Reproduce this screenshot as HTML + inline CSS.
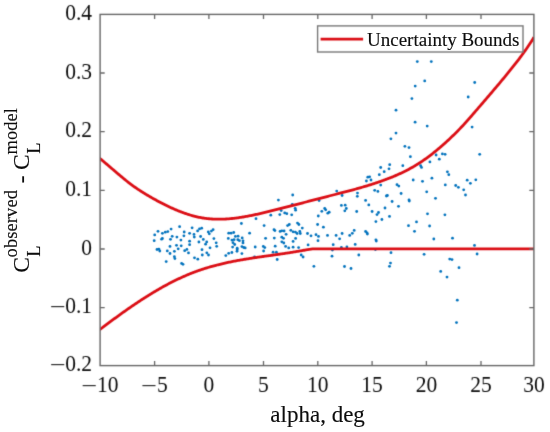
<!DOCTYPE html>
<html><head><meta charset="utf-8"><title>Uncertainty Bounds</title>
<style>html,body{margin:0;padding:0;background:#fff;width:550px;height:432px;overflow:hidden}svg{display:block}</style>
</head><body>
<svg width="550" height="432" viewBox="0 0 550 432"><defs><filter id="soft" color-interpolation-filters="sRGB" x="0" y="0" width="550" height="432" filterUnits="userSpaceOnUse"><feConvolveMatrix order="3" kernelMatrix="1 6 1 6 36 6 1 6 1" divisor="64" edgeMode="duplicate"/></filter></defs><g filter="url(#soft)"><rect width="550" height="432" fill="#fff"/><defs><clipPath id="c"><rect x="100.1" y="14.4" width="433.9" height="351.1"/></clipPath></defs><g fill="#0072bd" clip-path="url(#c)"><circle cx="179.6" cy="226.7" r="1.4"/><circle cx="171.1" cy="229.1" r="1.4"/><circle cx="158.0" cy="231.3" r="1.4"/><circle cx="162.4" cy="233.3" r="1.4"/><circle cx="165.3" cy="232.2" r="1.4"/><circle cx="167.8" cy="231.6" r="1.4"/><circle cx="154.7" cy="234.9" r="1.4"/><circle cx="192.1" cy="227.8" r="1.4"/><circle cx="184.2" cy="232.0" r="1.4"/><circle cx="183.9" cy="235.8" r="1.4"/><circle cx="172.2" cy="236.3" r="1.4"/><circle cx="176.9" cy="237.1" r="1.4"/><circle cx="189.6" cy="233.3" r="1.4"/><circle cx="194.0" cy="234.4" r="1.4"/><circle cx="194.3" cy="237.1" r="1.4"/><circle cx="197.6" cy="230.9" r="1.4"/><circle cx="199.5" cy="228.9" r="1.4"/><circle cx="162.4" cy="238.5" r="1.4"/><circle cx="161.6" cy="239.2" r="1.4"/><circle cx="154.2" cy="240.7" r="1.4"/><circle cx="170.5" cy="239.3" r="1.4"/><circle cx="180.9" cy="240.1" r="1.4"/><circle cx="189.6" cy="241.2" r="1.4"/><circle cx="189.6" cy="244.7" r="1.4"/><circle cx="198.9" cy="242.0" r="1.4"/><circle cx="170.0" cy="246.4" r="1.4"/><circle cx="176.5" cy="245.3" r="1.4"/><circle cx="181.2" cy="245.8" r="1.4"/><circle cx="178.2" cy="248.8" r="1.4"/><circle cx="157.0" cy="249.5" r="1.4"/><circle cx="158.9" cy="249.1" r="1.4"/><circle cx="159.8" cy="251.0" r="1.4"/><circle cx="167.3" cy="250.9" r="1.4"/><circle cx="170.0" cy="253.5" r="1.4"/><circle cx="174.4" cy="251.3" r="1.4"/><circle cx="184.7" cy="250.7" r="1.4"/><circle cx="186.9" cy="249.4" r="1.4"/><circle cx="188.5" cy="252.9" r="1.4"/><circle cx="174.4" cy="256.7" r="1.4"/><circle cx="174.9" cy="258.6" r="1.4"/><circle cx="194.5" cy="257.8" r="1.4"/><circle cx="197.8" cy="259.2" r="1.4"/><circle cx="166.2" cy="261.6" r="1.4"/><circle cx="181.6" cy="263.4" r="1.4"/><circle cx="183.0" cy="264.3" r="1.4"/><circle cx="201.7" cy="228.2" r="1.4"/><circle cx="208.3" cy="231.9" r="1.4"/><circle cx="209.3" cy="233.8" r="1.4"/><circle cx="211.4" cy="231.1" r="1.4"/><circle cx="213.1" cy="229.7" r="1.4"/><circle cx="200.6" cy="236.5" r="1.4"/><circle cx="203.3" cy="239.4" r="1.4"/><circle cx="206.7" cy="241.9" r="1.4"/><circle cx="205.6" cy="244.2" r="1.4"/><circle cx="213.9" cy="238.6" r="1.4"/><circle cx="216.2" cy="242.8" r="1.4"/><circle cx="216.7" cy="246.3" r="1.4"/><circle cx="210.0" cy="247.8" r="1.4"/><circle cx="202.0" cy="249.7" r="1.4"/><circle cx="202.3" cy="255.0" r="1.4"/><circle cx="206.8" cy="252.8" r="1.4"/><circle cx="208.5" cy="255.0" r="1.4"/><circle cx="228.7" cy="233.2" r="1.4"/><circle cx="231.1" cy="233.2" r="1.4"/><circle cx="233.7" cy="232.5" r="1.4"/><circle cx="249.6" cy="233.2" r="1.4"/><circle cx="235.4" cy="236.4" r="1.4"/><circle cx="238.1" cy="236.2" r="1.4"/><circle cx="242.2" cy="237.9" r="1.4"/><circle cx="228.3" cy="238.4" r="1.4"/><circle cx="231.9" cy="240.1" r="1.4"/><circle cx="234.1" cy="239.7" r="1.4"/><circle cx="237.8" cy="239.7" r="1.4"/><circle cx="239.4" cy="240.7" r="1.4"/><circle cx="243.0" cy="240.8" r="1.4"/><circle cx="243.0" cy="242.9" r="1.4"/><circle cx="233.0" cy="242.7" r="1.4"/><circle cx="234.7" cy="244.5" r="1.4"/><circle cx="232.6" cy="247.1" r="1.4"/><circle cx="237.2" cy="248.2" r="1.4"/><circle cx="237.2" cy="249.7" r="1.4"/><circle cx="237.0" cy="251.3" r="1.4"/><circle cx="241.9" cy="246.6" r="1.4"/><circle cx="243.7" cy="247.5" r="1.4"/><circle cx="245.2" cy="247.9" r="1.4"/><circle cx="231.9" cy="252.5" r="1.4"/><circle cx="228.7" cy="253.3" r="1.4"/><circle cx="225.8" cy="255.6" r="1.4"/><circle cx="241.9" cy="253.6" r="1.4"/><circle cx="241.4" cy="223.5" r="1.4"/><circle cx="256.0" cy="218.7" r="1.4"/><circle cx="270.8" cy="215.2" r="1.4"/><circle cx="279.8" cy="214.6" r="1.4"/><circle cx="281.2" cy="210.6" r="1.4"/><circle cx="284.7" cy="212.9" r="1.4"/><circle cx="286.8" cy="213.7" r="1.4"/><circle cx="264.1" cy="225.6" r="1.4"/><circle cx="287.6" cy="225.6" r="1.4"/><circle cx="289.3" cy="224.5" r="1.4"/><circle cx="274.0" cy="229.7" r="1.4"/><circle cx="274.9" cy="230.6" r="1.4"/><circle cx="280.1" cy="231.4" r="1.4"/><circle cx="281.8" cy="230.8" r="1.4"/><circle cx="284.1" cy="231.0" r="1.4"/><circle cx="286.1" cy="234.3" r="1.4"/><circle cx="265.6" cy="238.3" r="1.4"/><circle cx="274.3" cy="238.1" r="1.4"/><circle cx="281.8" cy="237.2" r="1.4"/><circle cx="283.5" cy="238.3" r="1.4"/><circle cx="281.8" cy="241.8" r="1.4"/><circle cx="283.8" cy="243.0" r="1.4"/><circle cx="255.2" cy="247.0" r="1.4"/><circle cx="263.3" cy="246.4" r="1.4"/><circle cx="264.8" cy="247.6" r="1.4"/><circle cx="275.2" cy="246.2" r="1.4"/><circle cx="285.6" cy="246.4" r="1.4"/><circle cx="288.7" cy="247.9" r="1.4"/><circle cx="263.6" cy="251.0" r="1.4"/><circle cx="273.1" cy="252.2" r="1.4"/><circle cx="276.4" cy="252.2" r="1.4"/><circle cx="254.6" cy="256.8" r="1.4"/><circle cx="277.2" cy="259.5" r="1.4"/><circle cx="292.7" cy="195.0" r="1.4"/><circle cx="278.4" cy="200.1" r="1.4"/><circle cx="319.1" cy="200.6" r="1.4"/><circle cx="295.2" cy="208.3" r="1.4"/><circle cx="295.6" cy="210.2" r="1.4"/><circle cx="291.7" cy="214.8" r="1.4"/><circle cx="321.8" cy="211.3" r="1.4"/><circle cx="324.7" cy="208.5" r="1.4"/><circle cx="325.7" cy="209.8" r="1.4"/><circle cx="318.3" cy="216.0" r="1.4"/><circle cx="297.5" cy="223.1" r="1.4"/><circle cx="298.9" cy="224.5" r="1.4"/><circle cx="302.3" cy="228.1" r="1.4"/><circle cx="317.6" cy="224.5" r="1.4"/><circle cx="323.4" cy="227.2" r="1.4"/><circle cx="290.8" cy="230.3" r="1.4"/><circle cx="293.1" cy="231.8" r="1.4"/><circle cx="295.4" cy="232.1" r="1.4"/><circle cx="297.1" cy="233.5" r="1.4"/><circle cx="299.8" cy="231.4" r="1.4"/><circle cx="300.3" cy="233.5" r="1.4"/><circle cx="307.5" cy="233.5" r="1.4"/><circle cx="311.0" cy="235.8" r="1.4"/><circle cx="316.0" cy="234.7" r="1.4"/><circle cx="318.5" cy="236.4" r="1.4"/><circle cx="295.6" cy="238.4" r="1.4"/><circle cx="293.1" cy="241.4" r="1.4"/><circle cx="318.0" cy="240.7" r="1.4"/><circle cx="308.1" cy="244.9" r="1.4"/><circle cx="293.1" cy="247.2" r="1.4"/><circle cx="298.6" cy="247.6" r="1.4"/><circle cx="333.2" cy="244.7" r="1.4"/><circle cx="301.2" cy="255.0" r="1.4"/><circle cx="303.1" cy="257.0" r="1.4"/><circle cx="332.0" cy="256.2" r="1.4"/><circle cx="332.4" cy="250.0" r="1.4"/><circle cx="313.9" cy="266.3" r="1.4"/><circle cx="342.1" cy="195.5" r="1.4"/><circle cx="357.3" cy="196.3" r="1.4"/><circle cx="365.6" cy="200.4" r="1.4"/><circle cx="368.8" cy="204.9" r="1.4"/><circle cx="341.4" cy="205.4" r="1.4"/><circle cx="345.2" cy="205.2" r="1.4"/><circle cx="346.3" cy="208.5" r="1.4"/><circle cx="344.8" cy="210.8" r="1.4"/><circle cx="356.7" cy="211.5" r="1.4"/><circle cx="327.8" cy="213.2" r="1.4"/><circle cx="329.2" cy="212.2" r="1.4"/><circle cx="327.5" cy="235.4" r="1.4"/><circle cx="336.1" cy="235.4" r="1.4"/><circle cx="342.1" cy="233.5" r="1.4"/><circle cx="339.6" cy="238.8" r="1.4"/><circle cx="349.7" cy="235.4" r="1.4"/><circle cx="352.3" cy="233.3" r="1.4"/><circle cx="354.2" cy="230.4" r="1.4"/><circle cx="365.6" cy="231.5" r="1.4"/><circle cx="367.1" cy="233.0" r="1.4"/><circle cx="367.4" cy="234.1" r="1.4"/><circle cx="355.2" cy="244.4" r="1.4"/><circle cx="346.9" cy="247.0" r="1.4"/><circle cx="341.4" cy="247.5" r="1.4"/><circle cx="358.8" cy="255.0" r="1.4"/><circle cx="344.5" cy="266.5" r="1.4"/><circle cx="351.0" cy="268.5" r="1.4"/><circle cx="386.4" cy="196.0" r="1.4"/><circle cx="387.4" cy="195.5" r="1.4"/><circle cx="392.1" cy="201.5" r="1.4"/><circle cx="409.0" cy="200.0" r="1.4"/><circle cx="409.3" cy="201.0" r="1.4"/><circle cx="385.0" cy="208.0" r="1.4"/><circle cx="398.5" cy="206.3" r="1.4"/><circle cx="372.1" cy="211.5" r="1.4"/><circle cx="378.5" cy="212.5" r="1.4"/><circle cx="377.0" cy="214.6" r="1.4"/><circle cx="389.5" cy="216.4" r="1.4"/><circle cx="381.9" cy="219.5" r="1.4"/><circle cx="375.9" cy="221.6" r="1.4"/><circle cx="408.5" cy="225.7" r="1.4"/><circle cx="414.5" cy="231.3" r="1.4"/><circle cx="375.9" cy="239.8" r="1.4"/><circle cx="376.3" cy="241.0" r="1.4"/><circle cx="375.4" cy="249.6" r="1.4"/><circle cx="391.0" cy="252.7" r="1.4"/><circle cx="390.5" cy="263.1" r="1.4"/><circle cx="389.5" cy="266.3" r="1.4"/><circle cx="435.5" cy="198.3" r="1.4"/><circle cx="427.5" cy="213.8" r="1.4"/><circle cx="444.9" cy="214.8" r="1.4"/><circle cx="416.5" cy="221.9" r="1.4"/><circle cx="429.6" cy="226.0" r="1.4"/><circle cx="433.8" cy="239.0" r="1.4"/><circle cx="452.5" cy="238.2" r="1.4"/><circle cx="424.1" cy="254.3" r="1.4"/><circle cx="449.7" cy="259.1" r="1.4"/><circle cx="452.0" cy="259.6" r="1.4"/><circle cx="459.0" cy="267.7" r="1.4"/><circle cx="440.7" cy="271.4" r="1.4"/><circle cx="447.0" cy="277.1" r="1.4"/><circle cx="457.3" cy="300.2" r="1.4"/><circle cx="456.5" cy="322.6" r="1.4"/><circle cx="479.7" cy="154.3" r="1.4"/><circle cx="447.4" cy="171.8" r="1.4"/><circle cx="448.8" cy="174.7" r="1.4"/><circle cx="445.3" cy="184.9" r="1.4"/><circle cx="455.7" cy="185.5" r="1.4"/><circle cx="458.4" cy="187.3" r="1.4"/><circle cx="463.7" cy="189.8" r="1.4"/><circle cx="465.5" cy="195.0" r="1.4"/><circle cx="467.2" cy="180.2" r="1.4"/><circle cx="470.4" cy="183.3" r="1.4"/><circle cx="475.8" cy="179.8" r="1.4"/><circle cx="474.5" cy="245.4" r="1.4"/><circle cx="477.1" cy="254.0" r="1.4"/><circle cx="404.9" cy="146.3" r="1.4"/><circle cx="409.0" cy="147.6" r="1.4"/><circle cx="410.4" cy="156.7" r="1.4"/><circle cx="402.8" cy="165.7" r="1.4"/><circle cx="420.6" cy="165.7" r="1.4"/><circle cx="421.5" cy="167.4" r="1.4"/><circle cx="429.9" cy="161.9" r="1.4"/><circle cx="436.1" cy="155.0" r="1.4"/><circle cx="439.3" cy="159.2" r="1.4"/><circle cx="442.4" cy="153.9" r="1.4"/><circle cx="445.1" cy="154.3" r="1.4"/><circle cx="413.2" cy="180.0" r="1.4"/><circle cx="422.5" cy="181.3" r="1.4"/><circle cx="431.9" cy="178.2" r="1.4"/><circle cx="401.1" cy="193.5" r="1.4"/><circle cx="426.7" cy="191.8" r="1.4"/><circle cx="389.7" cy="164.7" r="1.4"/><circle cx="380.7" cy="167.5" r="1.4"/><circle cx="389.0" cy="168.8" r="1.4"/><circle cx="384.2" cy="171.7" r="1.4"/><circle cx="379.3" cy="174.7" r="1.4"/><circle cx="367.8" cy="177.2" r="1.4"/><circle cx="369.6" cy="176.8" r="1.4"/><circle cx="366.4" cy="181.0" r="1.4"/><circle cx="371.0" cy="180.0" r="1.4"/><circle cx="380.7" cy="185.1" r="1.4"/><circle cx="397.0" cy="184.7" r="1.4"/><circle cx="398.8" cy="186.1" r="1.4"/><circle cx="374.7" cy="190.3" r="1.4"/><circle cx="377.9" cy="191.4" r="1.4"/><circle cx="357.5" cy="193.1" r="1.4"/><circle cx="336.7" cy="191.1" r="1.4"/><circle cx="292.3" cy="204.3" r="1.4"/><circle cx="417.3" cy="61.6" r="1.4"/><circle cx="431.3" cy="61.6" r="1.4"/><circle cx="424.7" cy="80.9" r="1.4"/><circle cx="415.2" cy="86.1" r="1.4"/><circle cx="411.9" cy="98.6" r="1.4"/><circle cx="396.0" cy="110.2" r="1.4"/><circle cx="415.1" cy="122.2" r="1.4"/><circle cx="427.2" cy="126.1" r="1.4"/><circle cx="396.0" cy="133.1" r="1.4"/><circle cx="390.9" cy="138.8" r="1.4"/><circle cx="474.7" cy="82.5" r="1.4"/><circle cx="468.2" cy="97.0" r="1.4"/><circle cx="472.1" cy="127.1" r="1.4"/></g><g fill="none" stroke="#db0e15" stroke-width="2.8" stroke-linejoin="round" clip-path="url(#c)"><path d="M99.00,157.74 L100.00,158.56 L101.00,159.38 L102.00,160.20 L103.00,161.03 L104.00,161.87 L105.00,162.71 L106.00,163.56 L107.00,164.41 L108.00,165.27 L109.00,166.12 L110.00,166.98 L111.00,167.84 L112.00,168.70 L113.00,169.56 L114.00,170.42 L115.00,171.28 L116.00,172.14 L117.00,172.99 L118.00,173.84 L119.00,174.69 L120.00,175.53 L121.00,176.37 L122.00,177.20 L123.00,178.03 L124.00,178.85 L125.00,179.66 L126.00,180.47 L127.00,181.26 L128.00,182.05 L129.00,182.82 L130.00,183.59 L131.00,184.34 L132.00,185.08 L133.00,185.81 L134.00,186.53 L135.00,187.24 L136.00,187.93 L137.00,188.62 L138.00,189.29 L139.00,189.96 L140.00,190.62 L141.00,191.26 L142.00,191.90 L143.00,192.53 L144.00,193.15 L145.00,193.77 L146.00,194.37 L147.00,194.97 L148.00,195.57 L149.00,196.15 L150.00,196.73 L151.00,197.31 L152.00,197.88 L153.00,198.44 L154.00,199.00 L155.00,199.55 L156.00,200.10 L157.00,200.65 L158.00,201.19 L159.00,201.72 L160.00,202.25 L161.00,202.78 L162.00,203.30 L163.00,203.81 L164.00,204.32 L165.00,204.82 L166.00,205.31 L167.00,205.80 L168.00,206.28 L169.00,206.76 L170.00,207.23 L171.00,207.69 L172.00,208.14 L173.00,208.59 L174.00,209.03 L175.00,209.46 L176.00,209.89 L177.00,210.31 L178.00,210.72 L179.00,211.12 L180.00,211.51 L181.00,211.90 L182.00,212.28 L183.00,212.64 L184.00,213.00 L185.00,213.36 L186.00,213.70 L187.00,214.03 L188.00,214.35 L189.00,214.67 L190.00,214.97 L191.00,215.27 L192.00,215.56 L193.00,215.83 L194.00,216.10 L195.00,216.35 L196.00,216.60 L197.00,216.83 L198.00,217.05 L199.00,217.27 L200.00,217.47 L201.00,217.66 L202.00,217.84 L203.00,218.00 L204.00,218.16 L205.00,218.30 L206.00,218.43 L207.00,218.55 L208.00,218.66 L209.00,218.76 L210.00,218.85 L211.00,218.93 L212.00,219.00 L213.00,219.06 L214.00,219.11 L215.00,219.15 L216.00,219.18 L217.00,219.20 L218.00,219.21 L219.00,219.22 L220.00,219.21 L221.00,219.20 L222.00,219.17 L223.00,219.14 L224.00,219.10 L225.00,219.05 L226.00,219.00 L227.00,218.93 L228.00,218.86 L229.00,218.78 L230.00,218.70 L231.00,218.60 L232.00,218.51 L233.00,218.40 L234.00,218.29 L235.00,218.17 L236.00,218.04 L237.00,217.91 L238.00,217.77 L239.00,217.62 L240.00,217.47 L241.00,217.32 L242.00,217.16 L243.00,217.00 L244.00,216.83 L245.00,216.66 L246.00,216.48 L247.00,216.30 L248.00,216.11 L249.00,215.92 L250.00,215.72 L251.00,215.53 L252.00,215.32 L253.00,215.12 L254.00,214.91 L255.00,214.69 L256.00,214.48 L257.00,214.26 L258.00,214.03 L259.00,213.81 L260.00,213.58 L261.00,213.35 L262.00,213.12 L263.00,212.89 L264.00,212.65 L265.00,212.41 L266.00,212.17 L267.00,211.93 L268.00,211.69 L269.00,211.45 L270.00,211.20 L271.00,210.96 L272.00,210.71 L273.00,210.47 L274.00,210.22 L275.00,209.97 L276.00,209.72 L277.00,209.47 L278.00,209.22 L279.00,208.97 L280.00,208.72 L281.00,208.46 L282.00,208.21 L283.00,207.96 L284.00,207.70 L285.00,207.45 L286.00,207.19 L287.00,206.93 L288.00,206.68 L289.00,206.42 L290.00,206.16 L291.00,205.90 L292.00,205.64 L293.00,205.38 L294.00,205.12 L295.00,204.87 L296.00,204.60 L297.00,204.34 L298.00,204.08 L299.00,203.82 L300.00,203.56 L301.00,203.30 L302.00,203.04 L303.00,202.78 L304.00,202.52 L305.00,202.25 L306.00,201.99 L307.00,201.73 L308.00,201.47 L309.00,201.21 L310.00,200.95 L311.00,200.68 L312.00,200.42 L313.00,200.16 L314.00,199.90 L315.00,199.64 L316.00,199.38 L317.00,199.12 L318.00,198.86 L319.00,198.60 L320.00,198.34 L321.00,198.08 L322.00,197.82 L323.00,197.56 L324.00,197.30 L325.00,197.05 L326.00,196.79 L327.00,196.53 L328.00,196.28 L329.00,196.02 L330.00,195.76 L331.00,195.51 L332.00,195.25 L333.00,195.00 L334.00,194.75 L335.00,194.49 L336.00,194.24 L337.00,193.98 L338.00,193.73 L339.00,193.47 L340.00,193.21 L341.00,192.96 L342.00,192.70 L343.00,192.44 L344.00,192.18 L345.00,191.92 L346.00,191.66 L347.00,191.40 L348.00,191.14 L349.00,190.87 L350.00,190.61 L351.00,190.34 L352.00,190.07 L353.00,189.80 L354.00,189.53 L355.00,189.25 L356.00,188.98 L357.00,188.70 L358.00,188.42 L359.00,188.14 L360.00,187.86 L361.00,187.57 L362.00,187.28 L363.00,186.99 L364.00,186.70 L365.00,186.40 L366.00,186.10 L367.00,185.80 L368.00,185.50 L369.00,185.19 L370.00,184.88 L371.00,184.57 L372.00,184.25 L373.00,183.93 L374.00,183.61 L375.00,183.28 L376.00,182.95 L377.00,182.62 L378.00,182.28 L379.00,181.94 L380.00,181.59 L381.00,181.24 L382.00,180.89 L383.00,180.53 L384.00,180.17 L385.00,179.80 L386.00,179.43 L387.00,179.05 L388.00,178.67 L389.00,178.28 L390.00,177.89 L391.00,177.49 L392.00,177.09 L393.00,176.68 L394.00,176.26 L395.00,175.84 L396.00,175.41 L397.00,174.97 L398.00,174.53 L399.00,174.08 L400.00,173.62 L401.00,173.16 L402.00,172.68 L403.00,172.20 L404.00,171.71 L405.00,171.22 L406.00,170.71 L407.00,170.20 L408.00,169.67 L409.00,169.14 L410.00,168.60 L411.00,168.05 L412.00,167.49 L413.00,166.92 L414.00,166.34 L415.00,165.75 L416.00,165.15 L417.00,164.54 L418.00,163.92 L419.00,163.29 L420.00,162.64 L421.00,161.99 L422.00,161.32 L423.00,160.65 L424.00,159.96 L425.00,159.26 L426.00,158.55 L427.00,157.82 L428.00,157.09 L429.00,156.34 L430.00,155.59 L431.00,154.82 L432.00,154.05 L433.00,153.26 L434.00,152.46 L435.00,151.66 L436.00,150.84 L437.00,150.01 L438.00,149.18 L439.00,148.34 L440.00,147.48 L441.00,146.62 L442.00,145.75 L443.00,144.87 L444.00,143.98 L445.00,143.09 L446.00,142.18 L447.00,141.27 L448.00,140.35 L449.00,139.42 L450.00,138.49 L451.00,137.55 L452.00,136.59 L453.00,135.63 L454.00,134.66 L455.00,133.68 L456.00,132.69 L457.00,131.69 L458.00,130.67 L459.00,129.64 L460.00,128.60 L461.00,127.55 L462.00,126.49 L463.00,125.42 L464.00,124.34 L465.00,123.24 L466.00,122.14 L467.00,121.03 L468.00,119.91 L469.00,118.78 L470.00,117.64 L471.00,116.50 L472.00,115.35 L473.00,114.19 L474.00,113.03 L475.00,111.87 L476.00,110.70 L477.00,109.54 L478.00,108.37 L479.00,107.21 L480.00,106.05 L481.00,104.88 L482.00,103.72 L483.00,102.56 L484.00,101.39 L485.00,100.23 L486.00,99.06 L487.00,97.90 L488.00,96.73 L489.00,95.57 L490.00,94.40 L491.00,93.23 L492.00,92.06 L493.00,90.89 L494.00,89.71 L495.00,88.53 L496.00,87.35 L497.00,86.17 L498.00,84.99 L499.00,83.80 L500.00,82.61 L501.00,81.41 L502.00,80.21 L503.00,79.01 L504.00,77.80 L505.00,76.59 L506.00,75.37 L507.00,74.15 L508.00,72.93 L509.00,71.70 L510.00,70.46 L511.00,69.22 L512.00,67.97 L513.00,66.72 L514.00,65.46 L515.00,64.19 L516.00,62.92 L517.00,61.63 L518.00,60.34 L519.00,59.03 L520.00,57.71 L521.00,56.38 L522.00,55.03 L523.00,53.66 L524.00,52.27 L525.00,50.87 L526.00,49.45 L527.00,48.00 L528.00,46.54 L529.00,45.05 L530.00,43.53 L531.00,41.99 L532.00,40.42 L533.00,38.83 L533.90,37.30"/><path d="M99.00,330.28 L100.00,329.51 L101.00,328.75 L102.00,327.99 L103.00,327.22 L104.00,326.47 L105.00,325.71 L106.00,324.95 L107.00,324.20 L108.00,323.45 L109.00,322.70 L110.00,321.95 L111.00,321.21 L112.00,320.47 L113.00,319.73 L114.00,318.99 L115.00,318.25 L116.00,317.52 L117.00,316.79 L118.00,316.06 L119.00,315.34 L120.00,314.62 L121.00,313.90 L122.00,313.18 L123.00,312.47 L124.00,311.76 L125.00,311.05 L126.00,310.34 L127.00,309.64 L128.00,308.94 L129.00,308.25 L130.00,307.56 L131.00,306.87 L132.00,306.18 L133.00,305.50 L134.00,304.82 L135.00,304.15 L136.00,303.47 L137.00,302.81 L138.00,302.14 L139.00,301.48 L140.00,300.82 L141.00,300.17 L142.00,299.52 L143.00,298.87 L144.00,298.23 L145.00,297.59 L146.00,296.96 L147.00,296.33 L148.00,295.70 L149.00,295.08 L150.00,294.47 L151.00,293.85 L152.00,293.24 L153.00,292.64 L154.00,292.04 L155.00,291.44 L156.00,290.85 L157.00,290.27 L158.00,289.68 L159.00,289.11 L160.00,288.54 L161.00,287.97 L162.00,287.40 L163.00,286.85 L164.00,286.29 L165.00,285.75 L166.00,285.20 L167.00,284.67 L168.00,284.13 L169.00,283.60 L170.00,283.08 L171.00,282.57 L172.00,282.05 L173.00,281.55 L174.00,281.05 L175.00,280.55 L176.00,280.06 L177.00,279.58 L178.00,279.10 L179.00,278.63 L180.00,278.16 L181.00,277.70 L182.00,277.24 L183.00,276.79 L184.00,276.35 L185.00,275.91 L186.00,275.48 L187.00,275.05 L188.00,274.63 L189.00,274.22 L190.00,273.81 L191.00,273.41 L192.00,273.02 L193.00,272.63 L194.00,272.25 L195.00,271.87 L196.00,271.50 L197.00,271.14 L198.00,270.78 L199.00,270.43 L200.00,270.09 L201.00,269.75 L202.00,269.41 L203.00,269.08 L204.00,268.76 L205.00,268.44 L206.00,268.13 L207.00,267.82 L208.00,267.52 L209.00,267.23 L210.00,266.93 L211.00,266.65 L212.00,266.36 L213.00,266.09 L214.00,265.82 L215.00,265.55 L216.00,265.28 L217.00,265.02 L218.00,264.77 L219.00,264.52 L220.00,264.27 L221.00,264.03 L222.00,263.79 L223.00,263.56 L224.00,263.33 L225.00,263.10 L226.00,262.88 L227.00,262.66 L228.00,262.45 L229.00,262.23 L230.00,262.03 L231.00,261.82 L232.00,261.62 L233.00,261.42 L234.00,261.22 L235.00,261.03 L236.00,260.84 L237.00,260.65 L238.00,260.47 L239.00,260.29 L240.00,260.11 L241.00,259.93 L242.00,259.76 L243.00,259.58 L244.00,259.41 L245.00,259.25 L246.00,259.08 L247.00,258.92 L248.00,258.76 L249.00,258.60 L250.00,258.44 L251.00,258.28 L252.00,258.13 L253.00,257.97 L254.00,257.82 L255.00,257.67 L256.00,257.52 L257.00,257.37 L258.00,257.23 L259.00,257.08 L260.00,256.94 L261.00,256.79 L262.00,256.65 L263.00,256.51 L264.00,256.36 L265.00,256.22 L266.00,256.08 L267.00,255.94 L268.00,255.80 L269.00,255.66 L270.00,255.52 L271.00,255.38 L272.00,255.24 L273.00,255.10 L274.00,254.96 L275.00,254.82 L276.00,254.68 L277.00,254.53 L278.00,254.39 L279.00,254.25 L280.00,254.11 L281.00,253.96 L282.00,253.82 L283.00,253.67 L284.00,253.52 L285.00,253.38 L286.00,253.23 L287.00,253.08 L288.00,252.92 L289.00,252.77 L290.00,252.62 L291.00,252.46 L292.00,252.30 L293.00,252.14 L294.00,251.98 L295.00,251.82 L296.00,251.65 L297.00,251.48 L298.00,251.31 L299.00,251.14 L300.00,250.97 L301.00,250.79 L302.00,250.61 L303.00,250.43 L304.00,250.25 L305.00,250.06 L306.00,249.87 L312.60,248.95 L534.00,248.95"/></g><path d="M154.60,365.6V361.0M154.60,14.4V19.0M208.90,365.6V361.0M208.90,14.4V19.0M263.50,365.6V361.0M263.50,14.4V19.0M317.80,365.6V361.0M317.80,14.4V19.0M372.10,365.6V361.0M372.10,14.4V19.0M426.40,365.6V361.0M426.40,14.4V19.0M481.00,365.6V361.0M481.00,14.4V19.0M100.1,73.00H104.69999999999999M533.9,73.00H529.3M100.1,131.70H104.69999999999999M533.9,131.70H529.3M100.1,190.40H104.69999999999999M533.9,190.40H529.3M100.1,249.00H104.69999999999999M533.9,249.00H529.3M100.1,307.60H104.69999999999999M533.9,307.60H529.3" stroke="#666666" stroke-width="1.3" fill="none"/><rect x="100.1" y="14.4" width="433.80" height="351.20" fill="none" stroke="#666666" stroke-width="1.4"/><text transform="translate(92.10,19.90) scale(1,1.04)" text-anchor="end" font-family="Liberation Serif, serif" font-size="21.5" fill="#0d0d0d">0.4</text><text transform="translate(92.10,78.50) scale(1,1.04)" text-anchor="end" font-family="Liberation Serif, serif" font-size="21.5" fill="#0d0d0d">0.3</text><text transform="translate(92.10,137.20) scale(1,1.04)" text-anchor="end" font-family="Liberation Serif, serif" font-size="21.5" fill="#0d0d0d">0.2</text><text transform="translate(92.10,195.90) scale(1,1.04)" text-anchor="end" font-family="Liberation Serif, serif" font-size="21.5" fill="#0d0d0d">0.1</text><text transform="translate(92.10,254.50) scale(1,1.04)" text-anchor="end" font-family="Liberation Serif, serif" font-size="21.5" fill="#0d0d0d">0</text><text transform="translate(92.10,313.10) scale(1,1.04)" text-anchor="end" font-family="Liberation Serif, serif" font-size="21.5" fill="#0d0d0d">0.1</text><text transform="translate(49.72,314.40) scale(1.31,1)" font-family="Liberation Serif, serif" font-size="21.5" fill="#0d0d0d">−</text><text transform="translate(92.10,371.10) scale(1,1.04)" text-anchor="end" font-family="Liberation Serif, serif" font-size="21.5" fill="#0d0d0d">0.2</text><text transform="translate(49.72,372.40) scale(1.31,1)" font-family="Liberation Serif, serif" font-size="21.5" fill="#0d0d0d">−</text><text transform="translate(81.19,392.90) scale(1.31,1)" font-family="Liberation Serif, serif" font-size="21.5" fill="#0d0d0d">−</text><text transform="translate(97.10,391.70) scale(1,1.04)" text-anchor="start" font-family="Liberation Serif, serif" font-size="21.5" fill="#0d0d0d">10</text><text transform="translate(141.07,392.90) scale(1.31,1)" font-family="Liberation Serif, serif" font-size="21.5" fill="#0d0d0d">−</text><text transform="translate(156.97,391.70) scale(1,1.04)" text-anchor="start" font-family="Liberation Serif, serif" font-size="21.5" fill="#0d0d0d">5</text><text transform="translate(208.90,391.70) scale(1,1.04)" text-anchor="middle" font-family="Liberation Serif, serif" font-size="21.5" fill="#0d0d0d">0</text><text transform="translate(263.50,391.70) scale(1,1.04)" text-anchor="middle" font-family="Liberation Serif, serif" font-size="21.5" fill="#0d0d0d">5</text><text transform="translate(317.80,391.70) scale(1,1.04)" text-anchor="middle" font-family="Liberation Serif, serif" font-size="21.5" fill="#0d0d0d">10</text><text transform="translate(372.10,391.70) scale(1,1.04)" text-anchor="middle" font-family="Liberation Serif, serif" font-size="21.5" fill="#0d0d0d">15</text><text transform="translate(426.40,391.70) scale(1,1.04)" text-anchor="middle" font-family="Liberation Serif, serif" font-size="21.5" fill="#0d0d0d">20</text><text transform="translate(481.00,391.70) scale(1,1.04)" text-anchor="middle" font-family="Liberation Serif, serif" font-size="21.5" fill="#0d0d0d">25</text><text transform="translate(533.90,391.70) scale(1,1.04)" text-anchor="middle" font-family="Liberation Serif, serif" font-size="21.5" fill="#0d0d0d">30</text><rect x="317.6" y="25.9" width="205.4" height="26.1" fill="#fff" stroke="#787878" stroke-width="1.4"/><path d="M320.6,39.2H363.1" stroke="#db0e15" stroke-width="2.8"/></g><text x="317.6" y="422.2" text-anchor="middle" font-family="Liberation Serif, serif" font-size="23" fill="#0d0d0d" stroke="#0d0d0d" stroke-width="0.12">alpha, deg</text><g transform="translate(29.4,273) rotate(-90)" font-family="Liberation Serif, serif" fill="#0d0d0d" stroke="#0d0d0d" stroke-width="0.12"><text x="0.3" y="0" font-size="23.5">C</text><text x="15.6" y="-12" font-size="18.5" textLength="67.4" lengthAdjust="spacing">observed</text><text x="16.3" y="11" font-size="18.5">L</text><text x="89.8" y="0" font-size="23.5">-</text><text x="102.9" y="0" font-size="23.5">C</text><text x="118.6" y="-12" font-size="18.5" textLength="46.2" lengthAdjust="spacing">model</text><text x="119.2" y="11" font-size="18.5">L</text></g><text x="367" y="45.6" font-family="Liberation Serif, serif" font-size="19" fill="#0d0d0d" stroke="#0d0d0d" stroke-width="0.12">Uncertainty Bounds</text></svg>
</body></html>
